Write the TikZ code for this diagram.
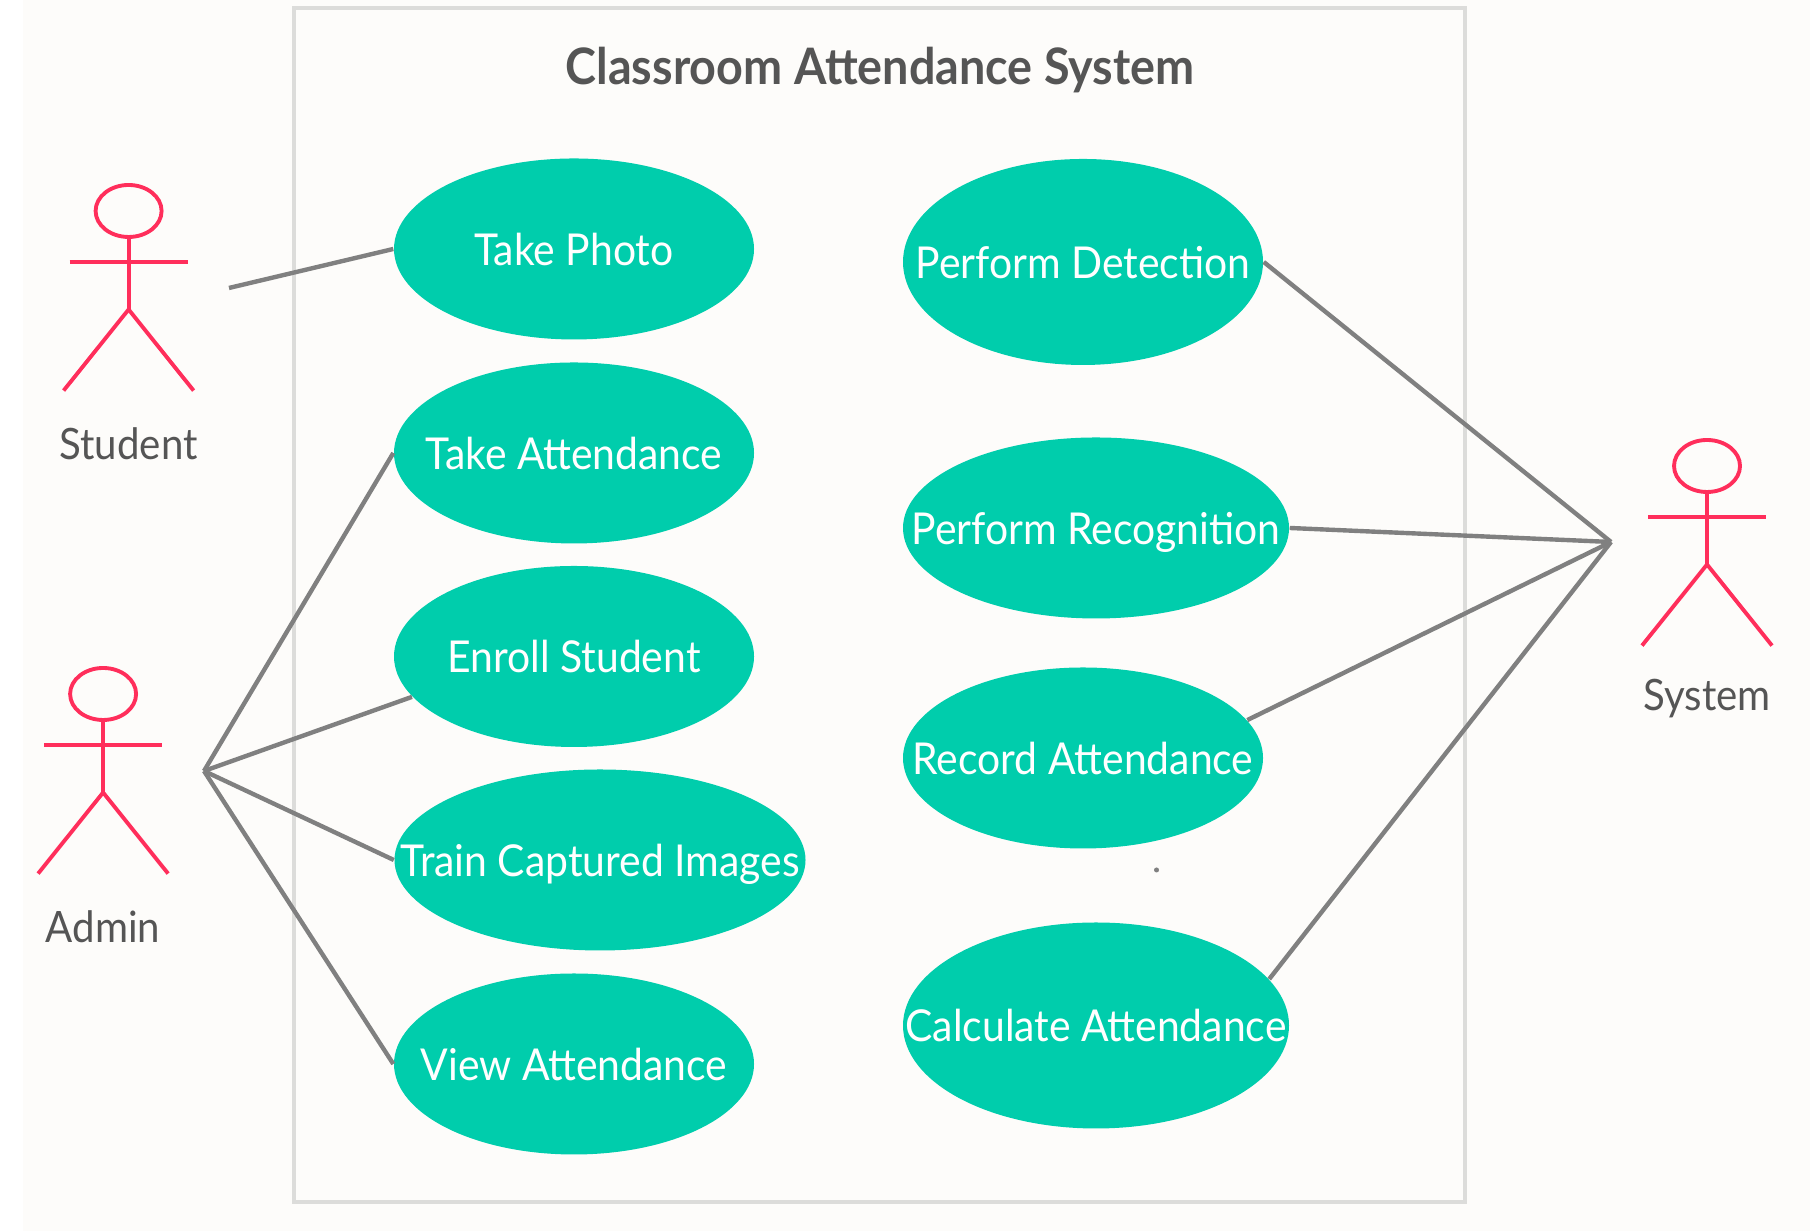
\documentclass[tikz,border=0pt]{standalone}
\usepackage{fontspec}
\setmainfont{Lato}[FakeStretch=0.93]
\usetikzlibrary{shapes.geometric}
\definecolor{panelbg}{HTML}{FDFCFA}
\definecolor{framegray}{HTML}{DCDCDA}
\definecolor{linegray}{HTML}{808080}
\definecolor{textgray}{HTML}{555555}
\definecolor{casegreen}{HTML}{00CDAC}
\definecolor{actorred}{HTML}{FF2E5B}
\tikzset{
    usecase/.style={ellipse, fill=casegreen, text=white, inner sep=0pt, minimum width=3.6cm, minimum height=1.81cm, text height=9.2pt, text depth=0pt, font=\fontsize{12.5}{15}\selectfont},
    link/.style={draw=linegray, line width=1.25pt},
    stick/.style={draw=actorred, line width=1.1pt},
    actorname/.style={text=textgray, font=\fontsize{12.3}{14}\selectfont}
}
\begin{document}
\begin{tikzpicture}
        \useasboundingbox (0,0) rectangle (18.17,12.31);
        \fill[panelbg] (0.23,0) rectangle (18.10,12.31);
        \draw[framegray, line width=1.1pt] (2.94,0.29) rectangle (14.65,12.23);
        \node[text=textgray, font=\fontsize{14.3}{18}\selectfont\bfseries] (title) at (8.80,11.61) {Classroom Attendance System};

        \node[usecase] (takephoto) at (5.74,9.82) {\makebox[0pt]{Take Photo}};
        \node[usecase] (takeattendance) at (5.74,7.78) {\makebox[0pt]{Take Attendance}};
        \node[usecase] (enroll) at (5.74,5.745) {\makebox[0pt]{Enroll Student}};
        \node[usecase, minimum width=4.11cm] (train) at (6.00,3.71) {\makebox[0pt]{Train Captured Images}};
        \node[usecase] (view) at (5.74,1.67) {\makebox[0pt]{View Attendance}};
        \node[usecase, minimum height=2.06cm] (detection) at (10.83,9.69) {\makebox[0pt]{Perform Detection}};
        \node[usecase, minimum width=3.86cm] (recognition) at (10.96,7.03) {\makebox[0pt]{Perform Recognition}};
        \node[usecase] (record) at (10.83,4.73) {\makebox[0pt]{Record Attendance}};
        \node[usecase, minimum width=3.86cm, minimum height=2.06cm] (calculate) at (10.96,2.055) {\makebox[0pt]{Calculate Attendance}};

        % stick figures
        \foreach \name/\x/\y/\who in {student/1.286/10.20/Student, admin/1.031/5.37/Admin, system/17.07/7.65/System} {
            \draw[stick] (\x,\y) ellipse (0.33 and 0.26);
            \draw[stick] (\x,\y-0.26) -- (\x,\y-0.985);
            \draw[stick] (\x-0.59,\y-0.51) -- (\x+0.59,\y-0.51);
            \draw[stick] (\x-0.65,\y-1.796) -- (\x,\y-0.985) -- (\x+0.65,\y-1.796);
            \node[actorname] (\name) at (\x,\y-2.33) {\who};
        }

        \coordinate (studentend) at (2.29,9.43);
        \coordinate (adminhub) at (2.04,4.60);
        \coordinate (systemhub) at (16.11,6.89);

        \draw[link] (studentend) -- (takephoto.west);
        \draw[link] (adminhub) -- (takeattendance.west);
        \draw[link] (adminhub) -- (enroll.194);
        \draw[link] (adminhub) -- (train.west);
        \draw[link] (adminhub) -- (view.west);
        \draw[link] (systemhub) -- (detection.east);
        \draw[link] (systemhub) -- (recognition.east);
        \draw[link] (systemhub) -- (record.13);
        \draw[link] (systemhub) -- (calculate.15);

        \fill[linegray] (11.565,3.61) circle (0.025);
    \end{tikzpicture}
\end{document}
